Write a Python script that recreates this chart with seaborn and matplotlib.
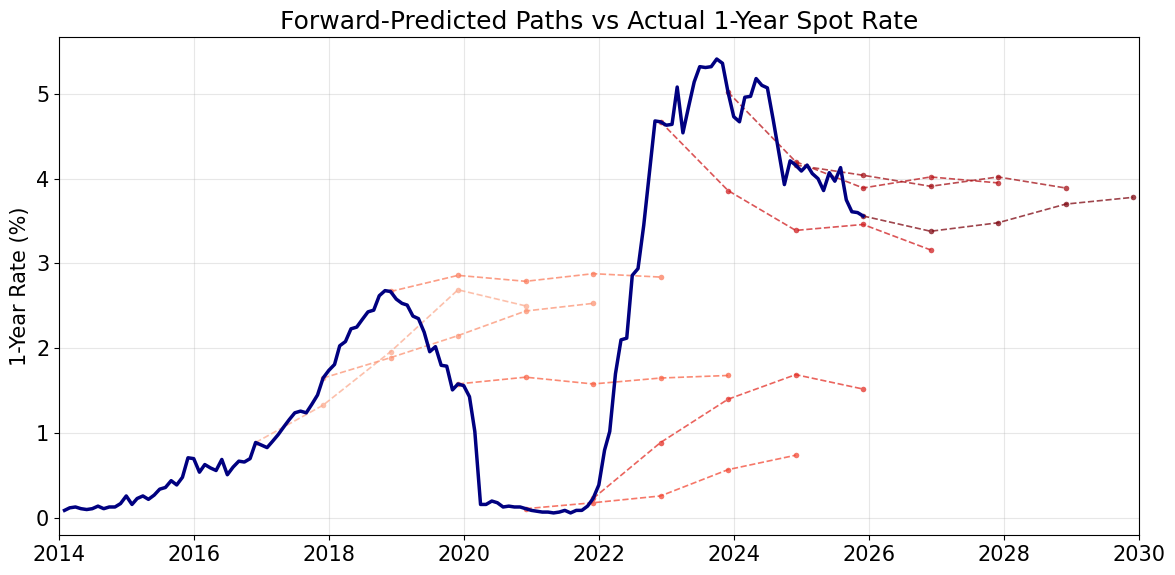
import pandas as pd
import numpy as np
import matplotlib
matplotlib.use("Agg")
import matplotlib.pyplot as plt
import matplotlib.dates as mdates
import seaborn as sns

# Actual 1-year spot rate, monthly (month end), Jan 2014 - Nov 2025
rate_2014 = [0.09, 0.12, 0.13, 0.11, 0.10, 0.11, 0.14, 0.11, 0.13, 0.13, 0.17, 0.26]
rate_2015 = [0.16, 0.23, 0.26, 0.22, 0.27, 0.34, 0.36, 0.44, 0.39, 0.48, 0.71, 0.70]
rate_2016 = [0.54, 0.63, 0.59, 0.56, 0.69, 0.51, 0.60, 0.67, 0.66, 0.70, 0.89, 0.86]
rate_2017 = [0.83, 0.90, 0.98, 1.07, 1.16, 1.24, 1.26, 1.24, 1.34, 1.45, 1.65, 1.74]
rate_2018 = [1.81, 2.03, 2.08, 2.23, 2.25, 2.34, 2.43, 2.45, 2.62, 2.68, 2.67, 2.58]
rate_2019 = [2.53, 2.51, 2.38, 2.35, 2.19, 1.96, 2.02, 1.80, 1.79, 1.51, 1.58, 1.56]
rate_2020 = [1.43, 1.02, 0.16, 0.16, 0.20, 0.18, 0.13, 0.14, 0.13, 0.13, 0.11, 0.09]
rate_2021 = [0.08, 0.07, 0.07, 0.06, 0.07, 0.09, 0.06, 0.09, 0.09, 0.14, 0.23, 0.39]
rate_2022 = [0.80, 1.02, 1.70, 2.10, 2.12, 2.86, 2.94, 3.45, 4.05, 4.68, 4.67, 4.63]
rate_2023 = [4.64, 5.08, 4.54, 4.84, 5.14, 5.32, 5.31, 5.32, 5.41, 5.36, 5.02, 4.73]
rate_2024 = [4.67, 4.96, 4.97, 5.18, 5.10, 5.07, 4.70, 4.31, 3.93, 4.21, 4.16, 4.09]
rate_2025 = [4.16, 4.06, 4.00, 3.86, 4.07, 3.97, 4.13, 3.75, 3.61, 3.60, 3.56]

actual = (rate_2014 + rate_2015 + rate_2016 + rate_2017 + rate_2018 + rate_2019
          + rate_2020 + rate_2021 + rate_2022 + rate_2023 + rate_2024 + rate_2025)
dates = pd.date_range("2014-01-31", periods=len(actual), freq="ME")

# Forward-predicted paths: start (Nov 30 of start year) + 4 yearly forward points
path_starts = [2016, 2017, 2018, 2019, 2020, 2021, 2022, 2023, 2024, 2025]
path_values = [
    [0.89, 1.33, 1.96, 2.69, 2.50],
    [1.65, 1.89, 2.15, 2.44, 2.53],
    [2.67, 2.86, 2.79, 2.88, 2.84],
    [1.58, 1.66, 1.58, 1.65, 1.68],
    [0.11, 0.18, 0.26, 0.57, 0.74],
    [0.23, 0.89, 1.40, 1.69, 1.52],
    [4.67, 3.86, 3.39, 3.46, 3.16],
    [5.02, 4.20, 3.89, 4.02, 3.95],
    [4.16, 4.04, 3.91, 4.02, 3.89],
    [3.56, 3.38, 3.48, 3.70, 3.78],
]

fig, ax = plt.subplots(figsize=(11.75, 5.75), dpi=100)

colors = plt.cm.Reds(np.linspace(0.3, 0.95, len(path_starts)))
for start, vals, c in zip(path_starts, path_values, colors):
    pdates = pd.to_datetime([f"{start + k}-11-30" for k in range(len(vals))])
    sns.lineplot(x=pdates, y=vals, ax=ax, color=c, linestyle="--", linewidth=1.2,
                 marker="o", markersize=4, markeredgewidth=0, alpha=0.75)

sns.lineplot(x=dates, y=actual, ax=ax, color="navy", linewidth=2.5, zorder=5)

ax.set_title("Forward-Predicted Paths vs Actual 1-Year Spot Rate", fontsize=18)
ax.set_ylabel("1-Year Rate (%)", fontsize=15)
ax.set_xlabel("")
ax.set_xlim(pd.Timestamp("2014-01-01"), pd.Timestamp("2030-01-01"))
ax.set_ylim(-0.2, 5.67)
ax.xaxis.set_major_locator(mdates.YearLocator(2))
ax.xaxis.set_major_formatter(mdates.DateFormatter("%Y"))
ax.tick_params(labelsize=15)
ax.grid(True, alpha=0.3)

fig.subplots_adjust(left=0.0502, right=0.9694, top=0.9357, bottom=0.0696)
plt.savefig("out.png", dpi=100)
